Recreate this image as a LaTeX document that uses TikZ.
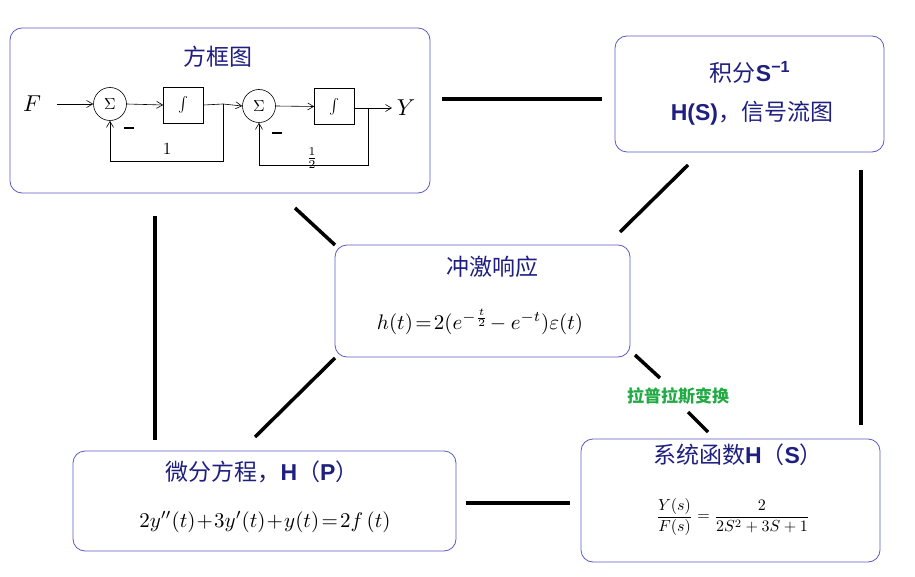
\documentclass[tikz,border=0pt]{standalone}
\usepackage{amsmath}
\usepackage{graphicx}
\usepackage{fontspec}
\newfontfamily\cjk{Noto Sans CJK SC}
\newfontfamily\hsans{Liberation Sans}
\usetikzlibrary{arrows.meta}
\definecolor{navy}{HTML}{1F1F80}
\definecolor{bord}{HTML}{5A5AC8}
\definecolor{lgreen}{HTML}{22AA44}
\begin{document}
\begin{tikzpicture}[x=1pt,y=-1pt,
 box/.style={draw=bord,line width=0.8pt,rounded corners=12pt},
 link/.style={line width=3.5pt},
 ttl/.style={text=navy,font=\cjk\fontsize{23}{25}\selectfont},
 sig/.style={line width=0.6pt,-{Straight Barb[length=6pt,width=7pt]}},
 blk/.style={draw,line width=0.6pt,minimum width=40pt,minimum height=36pt,inner sep=0pt},
 sm/.style={draw,circle,line width=0.6pt,minimum size=33pt,inner sep=0pt}]
\useasboundingbox (0,0) rectangle (915,577);
% boxes
\draw[box] (10,28) rectangle (430,193);
\draw[box] (615,36) rectangle (884,152);
\draw[box] (335,245) rectangle (630,357);
\draw[box] (73,451) rectangle (456,551);
\draw[box] (581,439) rectangle (880,562);
% links
\coordinate (a1) at (442,99); \coordinate (a2) at (602,99);
\draw[link] (a1)--(a2);
\coordinate (b1) at (861,170); \coordinate (b2) at (861,425);
\draw[link] (b1)--(b2);
\coordinate (c1) at (155,216); \coordinate (c2) at (155,440);
\draw[link] (c1)--(c2);
\coordinate (d1) at (295,208); \coordinate (d2) at (335,245);
\draw[link] (d1)--(d2);
\coordinate (e1) at (688,165); \coordinate (e2) at (620,232);
\draw[link] (e1)--(e2);
\coordinate (f1) at (335,358); \coordinate (f2) at (255,437);
\draw[link] (f1)--(f2);
\coordinate (g1) at (635,355); \coordinate (g2) at (660,378);
\draw[link] (g1)--(g2);
\coordinate (h1) at (688,412); \coordinate (h2) at (708,432);
\draw[link] (h1)--(h2);
\coordinate (i1) at (466,503); \coordinate (i2) at (570,503);
\draw[link] (i1)--(i2);
% titles
\node[ttl] (t1) at (218,57) {方框图};
\node[ttl] (t2) at (750,72) {积分{\hsans\bfseries S\textsuperscript{−1}}};
\node[ttl] (t3) at (752,113) {{\hsans\bfseries H(S)}，信号流图};
\node[ttl] (t4) at (492,267) {冲激响应};
\node[ttl] (t5) at (262,472) {微分方程，{\hsans\bfseries H}（{\hsans\bfseries P}）};
\node[ttl] (t6) at (738,455) {系统函数{\hsans\bfseries H}（{\hsans\bfseries S}）};
\node[text=lgreen,font=\cjk\bfseries\fontsize{17}{19}\selectfont] (lap) at (678,396) {拉普拉斯变换};
% formulas
\node (f1n) at (480,322) {\scalebox{2.1}{$h(t)\!=\!2(e^{-\frac{t}{2}}\!-e^{-t})\varepsilon(t)$}};
\node (f2n) at (265,522) {\scalebox{2.1}{$2y''(t)\!+\!3y'(t)\!+\!y(t)\!=\!2f\,(t)$}};
\node (f3n) at (733,517) {\scalebox{1.6}{$\dfrac{Y(s)}{F(s)}=\dfrac{2}{2S^2+3S+1}$}};
% block diagram
\node (F) at (32,104) {\scalebox{2.3}{$F$}};
\node (Y) at (406,108) {\scalebox{2.3}{$Y$}};
\node[sm] (s1) at (110,104) {\scalebox{1.6}{$\Sigma$}};
\node[blk] (k1) at (183.5,105) {\scalebox{1.5}{$\int$}};
\node[sm] (s2) at (259,106) {\scalebox{1.6}{$\Sigma$}};
\node[blk] (k2) at (334.5,106.5) {\scalebox{1.5}{$\int$}};
\coordinate (F0) at (57,104);
\draw[sig] (F0)--(s1.west);
\draw[sig] (s1.east)--(k1.west);
\coordinate (p1) at (223,104);
\coordinate (p1d) at (223,161); \coordinate (p1l) at (110,161);
\draw[sig] (k1.east)--(p1)--(s2.west);
\draw[sig] (p1)--(p1d)--(p1l)--(s1.south);
\draw[sig] (s2.east)--(k2.west);
\coordinate (p2) at (368,108); \coordinate (yout) at (392,108);
\coordinate (p2d) at (368,165); \coordinate (p2l) at (259,165);
\draw[sig] (k2.east|-p2)--(yout);
\draw[sig] (p2)--(p2d)--(p2l)--(s2.south);
\draw[line width=1.5pt] (124,128)--(134,128);
\draw[line width=1.5pt] (272,133)--(282,133);
\node (one) at (167,149) {\scalebox{1.7}{$1$}};
\node (half) at (312,158) {\scalebox{1.7}{$\frac{1}{2}$}};
\end{tikzpicture}
\end{document}
